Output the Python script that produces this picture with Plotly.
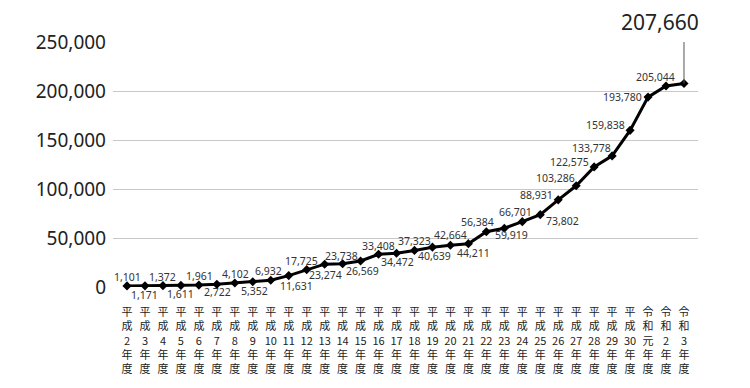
import plotly.graph_objects as go

categories = ["平成2年度", "平成3年度", "平成4年度", "平成5年度", "平成6年度", "平成7年度",
              "平成8年度", "平成9年度", "平成10年度", "平成11年度", "平成12年度", "平成13年度",
              "平成14年度", "平成15年度", "平成16年度", "平成17年度", "平成18年度", "平成19年度",
              "平成20年度", "平成21年度", "平成22年度", "平成23年度", "平成24年度", "平成25年度",
              "平成26年度", "平成27年度", "平成28年度", "平成29年度", "平成30年度", "令和元年度",
              "令和2年度", "令和3年度"]
values = [1101, 1171, 1372, 1611, 1961, 2722, 4102, 5352, 6932, 11631, 17725, 23274,
          23738, 26569, 33408, 34472, 37323, 40639, 42664, 44211, 56384, 59919, 66701, 73802,
          88931, 103286, 122575, 133778, 159838, 193780, 205044, 207660]
y_ticks = [0, 50000, 100000, 150000, 200000, 250000]

# data-label placement (style only): pixel offsets from each point and horizontal anchor
label_dx = [0, 0, 0, 0, 1, 1, 1, 2, -2, 8, -5, 1, -1, 2, 0, 1, 0, 2, 0, 5, -9, 7, -7, 4,
            -3, 1, -3, 1, -3, -4, -11]
label_dy = [9, -9, 9, -9, 9, -8, 9, -9, 9, -10, 9, -11, 8, -10, 8, -9, 9, -9, 10, -9, 10, -7,
            10, -6, 5, 8, 5, 8, 5, 0, 9]
label_anchor = ["center"] * 23 + ["left"] + ["right"] * 6 + ["center"]

FONT_JP = "Noto Sans CJK JP"
FONT = "Noto Sans"
idx = list(range(len(categories)))

# vertical (stacked) category labels
tick_text = ["<br>".join([c[0], c[1], c[2:-2], c[-2], c[-1]]) for c in categories]

fig = go.Figure()
fig.add_trace(go.Scatter(
    x=idx, y=values, mode="lines+markers",
    line=dict(color="black", width=3),
    marker=dict(symbol="diamond", size=7, color="black"),
    cliponaxis=False, hoverinfo="skip", showlegend=False,
))

for i in range(len(label_dx)):
    fig.add_annotation(x=idx[i], y=values[i], xref="x", yref="y", text=f"{values[i]:,}",
                       showarrow=False, xanchor=label_anchor[i], yanchor="middle",
                       xshift=label_dx[i], yshift=label_dy[i],
                       font=dict(family=FONT, size=10.5, color="#333333"))

xr = [-0.78, len(categories) - 1 + 0.78]

fig.update_layout(
    width=750, height=388,
    margin=dict(l=113, r=52, t=42, b=98),
    paper_bgcolor="white", plot_bgcolor="white",
    xaxis=dict(
        range=xr, tickvals=idx, ticktext=tick_text, tickangle=0,
        showgrid=False, zeroline=False, showline=False, ticks="",
        ticklabelstandoff=17,
        tickfont=dict(family=FONT_JP, size=11, color="#222222"), fixedrange=True,
    ),
    yaxis=dict(
        range=[0, 250000], tickvals=y_ticks, ticktext=[f"{v:,}" for v in y_ticks],
        showgrid=True, gridcolor="#c8c8c8", gridwidth=1, zeroline=False,
        showline=False, ticks="", ticklabelstandoff=6,
        tickfont=dict(family=FONT, size=19, color="#222222"), fixedrange=True,
    ),
)

# call-out for the latest value
fig.add_shape(type="line", xref="x", yref="y", x0=idx[-1], x1=idx[-1],
              ysizemode="pixel", yanchor=values[-1], y0=0, y1=48,
              line=dict(color="#555555", width=1))
fig.add_annotation(x=idx[-1], y=values[-1], xref="x", yref="y", text=f"{values[-1]:,}",
                   showarrow=False, xanchor="right", yanchor="bottom", xshift=17, yshift=45,
                   font=dict(family=FONT, size=21, color="#222222"))

fig.write_html("out.html", config={"displayModeBar": False},
               post_script="document.body.style.margin='0';")
